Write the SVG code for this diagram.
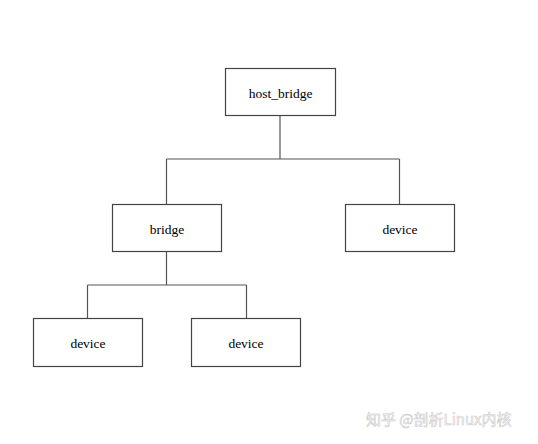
<svg xmlns="http://www.w3.org/2000/svg" width="538" height="444" viewBox="0 0 538 444">
<style>
.box{fill:#fff;stroke:#444;stroke-width:1.2}
.lbl{font-family:"Liberation Serif","Times New Roman",serif;font-size:13.5px;fill:#000;text-anchor:middle;dominant-baseline:central}
.conn{fill:none;stroke:#555;stroke-width:1.2}
.wm{font-family:"Noto Sans CJK SC","Noto Sans",sans-serif;font-size:15px;fill:#fff;stroke:#ccc;stroke-width:0.6}
</style>
<rect width="538" height="444" fill="#fff"/>
<g id="connectors">
<path class="conn" d="M280 116V159M166.5 159H399.5M166.5 159V204M399.5 159V204"/>
<path class="conn" d="M166.5 252V285M87.5 285H246.5M87.5 285V318M246.5 285V318"/>
</g>
<g id="host_bridge"><rect class="box" x="225.5" y="68.5" width="110" height="47"/><text class="lbl" x="280.5" y="93">host_bridge</text></g>
<g id="bridge"><rect class="box" x="112.5" y="204.5" width="109" height="47"/><text class="lbl" x="167" y="229">bridge</text></g>
<g id="device1"><rect class="box" x="345.5" y="204.5" width="109" height="47"/><text class="lbl" x="400" y="229">device</text></g>
<g id="device2"><rect class="box" x="33.5" y="318.5" width="109" height="48"/><text class="lbl" x="88" y="343">device</text></g>
<g id="device3"><rect class="box" x="191.5" y="318.5" width="109" height="48"/><text class="lbl" x="246" y="343">device</text></g>
<text class="wm" x="366" y="425">知乎 @剖析Linux内核</text>
</svg>
